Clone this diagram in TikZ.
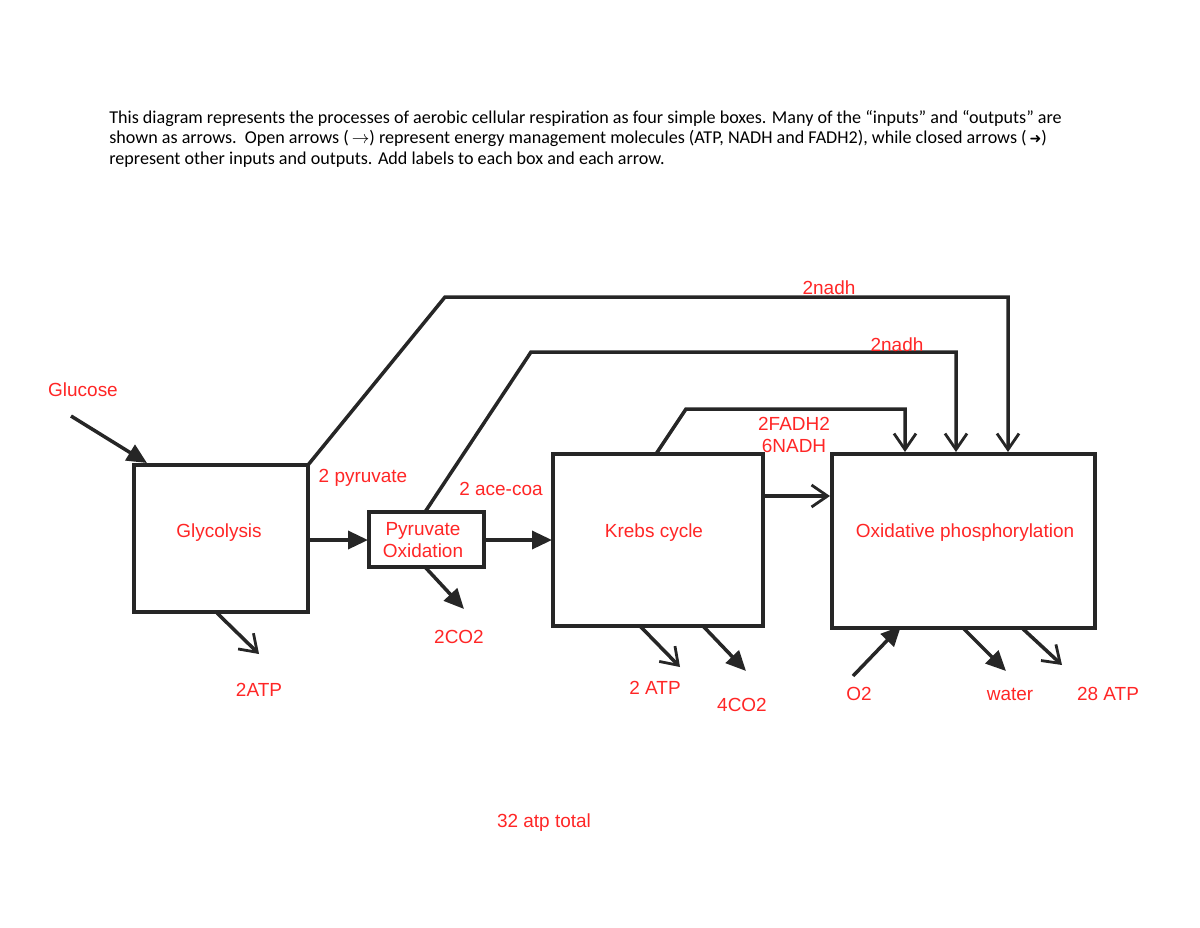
\documentclass[tikz,border=0pt]{standalone}
\usepackage{fontspec}
\setmainfont{Liberation Sans}
\newfontfamily\carl{Carlito}
\usetikzlibrary{arrows.meta}
\begin{document}
\begin{tikzpicture}[x=0.02cm,y=-0.02cm,
  box/.style={draw=black!85,line width=2pt},
  ln/.style={draw=black!85,line width=2pt},
  op/.style={ln,-{Straight Barb[length=3.2mm,width=4.4mm,line width=1.6pt]}},
  cl/.style={ln,-{Triangle[length=4mm,width=3.6mm]}},
  lab/.style={text=red!85!white,font=\fontsize{10.8}{12.4}\selectfont,inner sep=0pt},
  every node/.style={inner sep=0pt}]
\useasboundingbox (0,0) rectangle (1200,927);
\node[anchor=north west,align=left,font=\carl\fontsize{10.3}{11.6}\selectfont] (title) at (109,110) {This diagram represents the processes of aerobic cellular respiration as four simple boxes. Many of the “inputs” and “outputs” are\\shown as arrows.\ \ Open arrows (\,$\rightarrow$) represent energy management molecules (ATP, NADH and FADH2), while closed arrows (\,{\fontspec{DejaVu Sans}\footnotesize ➜})\\represent other inputs and outputs. Add labels to each box and each arrow.};
\path[box] (134,465) rectangle (308,612);
\path[box] (369,512) rectangle (484,567);
\path[box] (553,454) rectangle (763,626);
\path[box] (832,454) rectangle (1095,628);
\node[lab] (gly) at (219,533) {Glycolysis};
\node[lab,align=center] (po) at (423,540) {Pyruvate\\Oxidation};
\node[lab] (kr) at (654,533) {Krebs cycle};
\node[lab] (ox) at (965,533) {Oxidative phosphorylation};
\coordinate (a1) at (308,465); \coordinate (a2) at (445,297); \coordinate (a3) at (1008,297); \coordinate (a4) at (1008,452);
\draw[op] (a1) -- (a2) -- (a3) -- (a4);
\coordinate (b1) at (425,512); \coordinate (b2) at (531,352); \coordinate (b3) at (956,352); \coordinate (b4) at (956,452);
\draw[op] (b1) -- (b2) -- (b3) -- (b4);
\coordinate (c1) at (656,454); \coordinate (c2) at (686,409); \coordinate (c3) at (905,409); \coordinate (c4) at (905,452);
\draw[op] (c1) -- (c2) -- (c3) -- (c4);
\coordinate (d1) at (763,496); \coordinate (d2) at (830,496);
\draw[op] (d1) -- (d2);
\coordinate (e1) at (308,540); \coordinate (e2) at (368,540);
\draw[cl] (e1) -- (e2);
\coordinate (f1) at (484,540); \coordinate (f2) at (552,540);
\draw[cl] (f1) -- (f2);
\coordinate (g1) at (71,416); \coordinate (g2) at (147,463);
\draw[cl] (g1) -- (g2);
\coordinate (h1) at (217,613); \coordinate (h2) at (259,654);
\draw[op] (h1) -- (h2);
\coordinate (i1) at (425,567); \coordinate (i2) at (464,609);
\draw[cl] (i1) -- (i2);
\coordinate (j1) at (640,626); \coordinate (j2) at (680,667);
\draw[op] (j1) -- (j2);
\coordinate (k1) at (703,626); \coordinate (k2) at (746,671);
\draw[cl] (k1) -- (k2);
\coordinate (l1) at (853,676); \coordinate (l2) at (901,626);
\draw[cl] (l1) -- (l2);
\coordinate (m1) at (963,628); \coordinate (m2) at (1006,671);
\draw[cl] (m1) -- (m2);
\coordinate (n1) at (1022,628); \coordinate (n2) at (1062,665);
\draw[op] (n1) -- (n2);
\node[lab] (t1) at (83,390) {Glucose};
\node[lab] (t2) at (363,478) {2 pyruvate};
\node[lab] (t3) at (501,489) {2 ace-coa};
\node[lab] (t4) at (459,637) {2CO2};
\node[lab] (t5) at (259,690) {2ATP};
\node[lab] (t6) at (655,688) {2 ATP};
\node[lab] (t7) at (742,705) {4CO2};
\node[lab] (t8) at (859,694) {O2};
\node[lab] (t9) at (1010,694) {water};
\node[lab] (t10) at (1108,694) {28 ATP};
\node[lab] (t11) at (829,288) {2nadh};
\node[lab] (t12) at (897,345) {2nadh};
\node[lab] (t13) at (794,424) {2FADH2};
\node[lab] (t14) at (794,446) {6NADH};
\node[lab] (t15) at (544,823) {32 atp total};
\end{tikzpicture}
\end{document}
